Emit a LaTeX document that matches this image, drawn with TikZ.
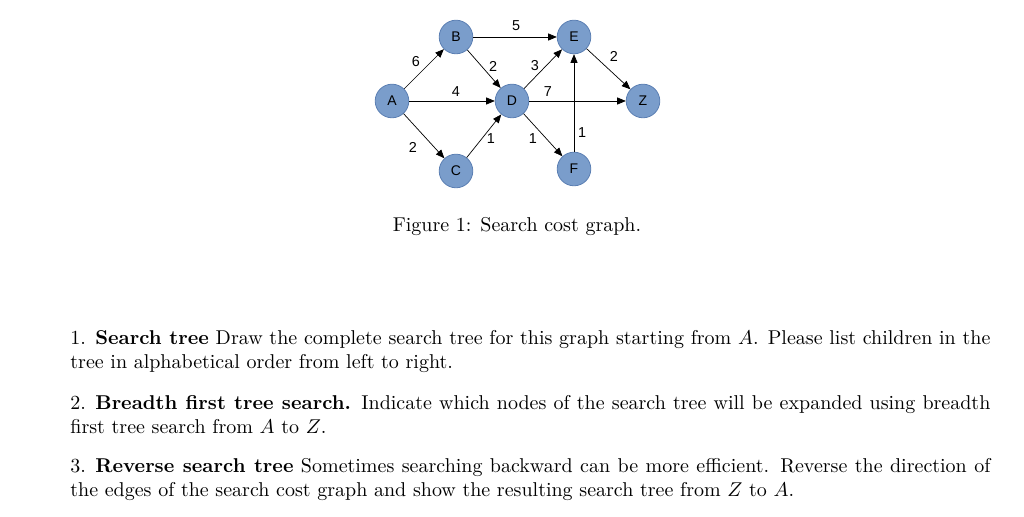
\documentclass[tikz,border=0pt]{standalone}
\usepackage{fontspec}
\newfontfamily\lsans{Liberation Sans}
\usetikzlibrary{arrows.meta}
\definecolor{nfill}{HTML}{7A9DCB}
\definecolor{ndraw}{HTML}{5B7FB3}
\begin{document}
\begin{tikzpicture}[x=0.5pt,y=-0.5pt,
  gnode/.style={circle,fill=nfill,draw=ndraw,line width=0.4pt,minimum size=16.8pt,inner sep=0pt,font=\lsans\fontsize{7}{8}\selectfont},
  elab/.style={font=\lsans\fontsize{7.2}{8}\selectfont,inner sep=0pt},
  edge/.style={-{Triangle[length=4.3pt,width=3.5pt]},line width=0.35pt},
  item/.style={anchor=base west,text width=460pt,align=justify,inner sep=0pt}]
\useasboundingbox (0,0) rectangle (1024,517);
\node[gnode] (A) at (392,101) {A};
\node[gnode] (B) at (456,37) {B};
\node[gnode] (C) at (456,171) {C};
\node[gnode] (D) at (512,101) {D};
\node[gnode] (E) at (574,37) {E};
\node[gnode] (F) at (574,169) {F};
\node[gnode] (Z) at (643,101) {Z};
\draw[edge] (A) -- (B);
\draw[edge] (A) -- (D);
\draw[edge] (A) -- (C);
\draw[edge] (B) -- (E);
\draw[edge] (B) -- (D);
\draw[edge] (C) -- (D);
\draw[edge] (D) -- (E);
\draw[edge] (D) -- (Z);
\draw[edge] (D) -- (F);
\draw[edge] (F) -- (E);
\draw[edge] (E) -- (Z);
\node[elab] (l1) at (416,62) {6};
\node[elab] (l2) at (493,66) {2};
\node[elab] (l3) at (516,26) {5};
\node[elab] (l4) at (535,66) {3};
\node[elab] (l5) at (614,56) {2};
\node[elab] (l6) at (456,92) {4};
\node[elab] (l7) at (548,92) {7};
\node[elab] (l8) at (413,147) {2};
\node[elab] (l9) at (491,139) {1};
\node[elab] (l10) at (533,139) {1};
\node[elab] (l11) at (582,133) {1};
\node[anchor=base,inner sep=0pt] (cap) at (517,232) {Figure 1: Search cost graph.};
\node[item] (i1) at (70,345) {\makebox[12.5pt][l]{1.}\hangindent=12.5pt\hangafter=1\textbf{Search tree} Draw the complete search tree for this graph starting from $A$. Please list children in the tree in alphabetical order from left to right.};
\node[item] (i2) at (70,410) {\makebox[12.5pt][l]{2.}\hangindent=12.5pt\hangafter=1\textbf{Breadth first tree search.} Indicate which nodes of the search tree will be expanded using breadth first tree search from $A$ to $Z$.};
\node[item] (i3) at (70,473) {\makebox[12.5pt][l]{3.}\hangindent=12.5pt\hangafter=1\textbf{Reverse search tree} Sometimes searching backward can be more efficient. Reverse the direction of the edges of the search cost graph and show the resulting search tree from $Z$ to $A$.};
\end{tikzpicture}
\end{document}
